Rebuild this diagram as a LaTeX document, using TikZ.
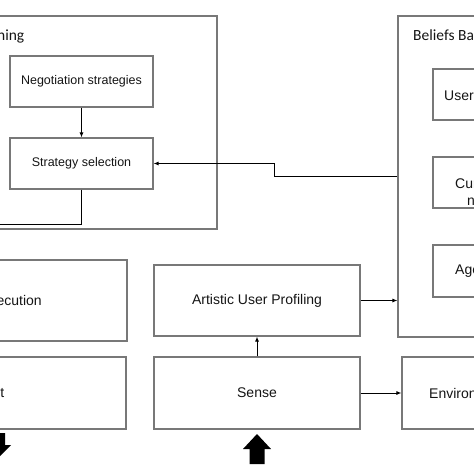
\documentclass[tikz,border=0pt]{standalone}
\usepackage{fontspec}
\setmainfont{Liberation Sans}
\newfontfamily\calfont{Carlito}
\usetikzlibrary{arrows.meta}
\definecolor{boxgray}{HTML}{787878}
\definecolor{txt}{HTML}{141414}
\tikzset{
  box/.style={draw=boxgray, line width=1.1pt, inner sep=0pt, text=txt},
  frame/.style={draw=boxgray, line width=1.1pt, inner sep=0pt},
  smalltxt/.style={font=\fontsize{12.5}{14}\selectfont, text=txt},
  bigtxt/.style={font=\fontsize{14}{16}\selectfont, text=txt},
  titletxt/.style={font=\calfont\fontsize{15.5}{17}\selectfont, text=txt, inner sep=0pt},
  conn/.style={draw=black, line width=1pt, -{Latex[length=5pt,width=4pt]}},
  plainconn/.style={draw=black, line width=1pt},
  blockarrow/.style={fill=black}
}
\begin{document}
\begin{tikzpicture}[x=1pt,y=-1pt]
\useasboundingbox (0,0) rectangle (474,474);
% frames
\node[frame, minimum width=337, minimum height=213] (planning) at (48.5,122.5) {};
\node[titletxt, anchor=base east] (planningtitle) at (24.5,40) {Planning};
\node[frame, minimum width=162, minimum height=321] (beliefs) at (479,176.5) {};
\node[titletxt, anchor=base west] (beliefstitle) at (413,40) {Beliefs Base};
% planning boxes
\node[box, smalltxt, minimum width=143, minimum height=51] (neg) at (81.5,81.5) {Negotiation strategies};
\node[box, smalltxt, minimum width=143, minimum height=51] (strat) at (81.5,163.5) {Strategy selection};
% beliefs boxes
\node[box, minimum width=92, minimum height=51] (user) at (479,94.5) {};
\node[bigtxt, anchor=west, inner sep=0pt] (usertxt) at (444,95) {User model};
\node[box, minimum width=92, minimum height=51] (cur) at (479,182.5) {};
\node[bigtxt, anchor=west, inner sep=0pt] (curtxt1) at (455,183.5) {Current};
\node[bigtxt, anchor=west, inner sep=0pt] (curtxt2) at (467,200) {needs};
\node[box, minimum width=92, minimum height=52] (ag) at (479,271) {};
\node[bigtxt, anchor=west, inner sep=0pt] (agtxt) at (455,271) {Agenda};
% lower boxes
\node[box, bigtxt, minimum width=232, minimum height=81] (exec) at (11,300.5) {Execution};
\node[box, minimum width=262, minimum height=72] (act) at (-5,393) {};
\node[bigtxt, anchor=east, inner sep=0pt] (acttxt) at (4.5,393) {Act};
\node[box, bigtxt, minimum width=206, minimum height=71] (artistic) at (257,300.5) {Artistic User Profiling};
\node[box, bigtxt, minimum width=206, minimum height=72] (sense) at (257,393) {Sense};
\node[box, minimum width=133, minimum height=72] (environ) at (468.5,393) {};
\node[bigtxt, anchor=west, inner sep=0pt] (environtxt) at (429,393) {Environment};
% connectors
\coordinate (execin) at (-40,224);
\draw[conn] (neg.south) -- (strat.north);
\draw[plainconn] (strat.south) -- (strat.south |- execin) -- (execin);
\draw[conn] (beliefs.west) -- ++(-123,0) |- (strat.east);
\draw[conn] (artistic.east) -- (beliefs.west |- artistic.east);
\draw[conn] (sense.north) -- (artistic.south);
\draw[conn] (sense.east) -- (environ.west);
% block arrows
\fill[blockarrow] (249.5,464) -- (264.5,464) -- (264.5,449) -- (271,449) -- (257,434) -- (243,449) -- (249.5,449) -- cycle;
\fill[blockarrow] (-9,433) -- (5,433) -- (5,445) -- (11,445) -- (-2,458) -- (-15,445) -- (-9,445) -- cycle;
\end{tikzpicture}
\end{document}
